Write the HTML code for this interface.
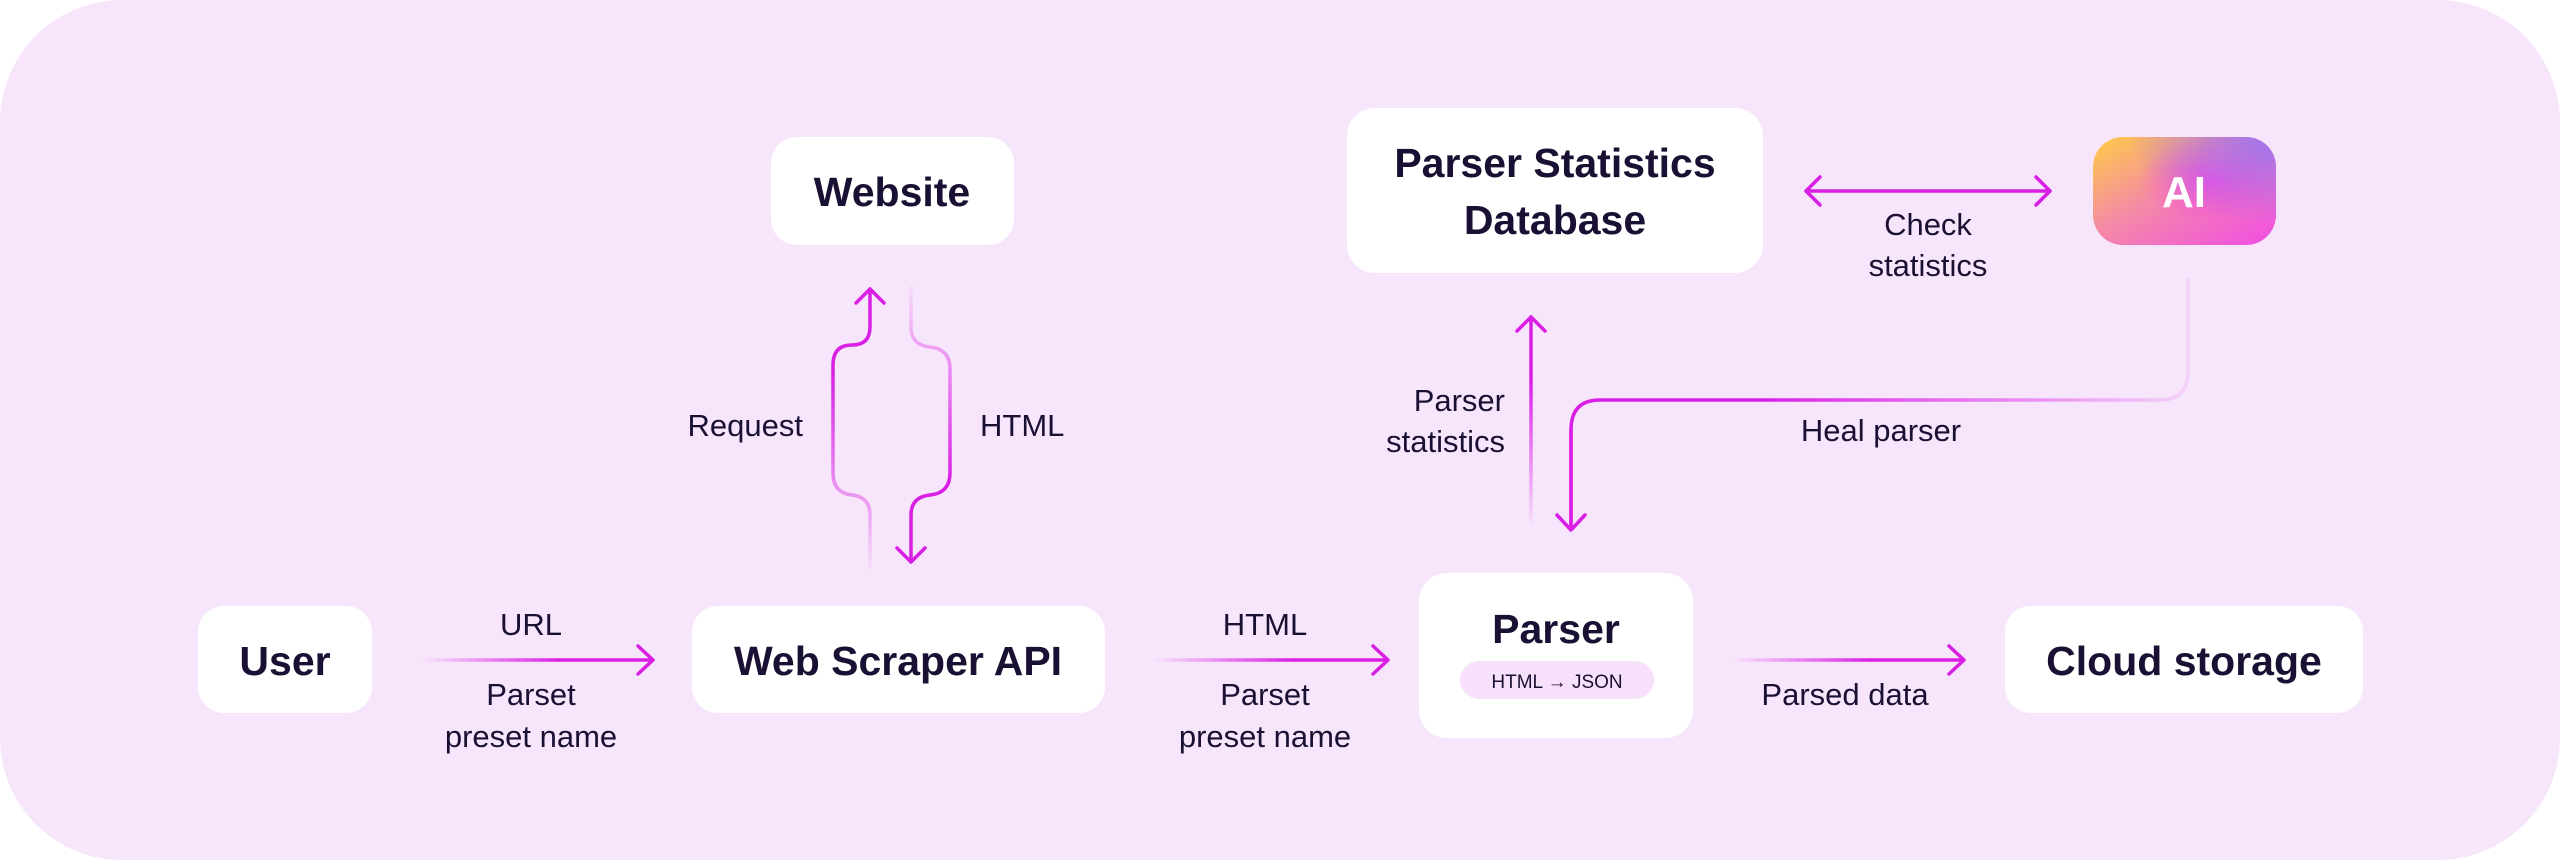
<!DOCTYPE html>
<html><head><meta charset="utf-8"><style>
html,body{margin:0;padding:0;background:#fff;}
svg{display:block;}
text{font-family:"Liberation Sans",sans-serif;fill:#1a1033;}
.t{font-size:41px;font-weight:bold;text-anchor:middle;}
.l{font-size:31px;text-anchor:middle;}
</style></head><body>
<svg width="2560" height="860" viewBox="0 0 2560 860" xmlns="http://www.w3.org/2000/svg">
<defs>
<linearGradient id="g1" gradientUnits="userSpaceOnUse" x1="421" y1="0" x2="653" y2="0"><stop offset="0" stop-color="#d91ee6" stop-opacity="0"/><stop offset="0.6" stop-color="#d91ee6"/></linearGradient>
<linearGradient id="g2" gradientUnits="userSpaceOnUse" x1="1153" y1="0" x2="1388" y2="0"><stop offset="0" stop-color="#d91ee6" stop-opacity="0"/><stop offset="0.6" stop-color="#d91ee6"/></linearGradient>
<linearGradient id="g3" gradientUnits="userSpaceOnUse" x1="1731" y1="0" x2="1964" y2="0"><stop offset="0" stop-color="#d91ee6" stop-opacity="0"/><stop offset="0.6" stop-color="#d91ee6"/></linearGradient>
<linearGradient id="greq" gradientUnits="userSpaceOnUse" x1="0" y1="289" x2="0" y2="568"><stop offset="0.3" stop-color="#d91ee6"/><stop offset="1" stop-color="#d91ee6" stop-opacity="0.05"/></linearGradient>
<linearGradient id="ghtml" gradientUnits="userSpaceOnUse" x1="0" y1="562" x2="0" y2="287"><stop offset="0.3" stop-color="#d91ee6"/><stop offset="1" stop-color="#d91ee6" stop-opacity="0.05"/></linearGradient>
<linearGradient id="gps" gradientUnits="userSpaceOnUse" x1="0" y1="317" x2="0" y2="522"><stop offset="0.3" stop-color="#d91ee6"/><stop offset="1" stop-color="#d91ee6" stop-opacity="0.05"/></linearGradient>
<linearGradient id="heal" gradientUnits="userSpaceOnUse" x1="1571" y1="0" x2="2190" y2="0"><stop offset="0.3" stop-color="#d91ee6"/><stop offset="1" stop-color="#d91ee6" stop-opacity="0.1"/></linearGradient>
<linearGradient id="ai1" x1="0" y1="0" x2="1" y2="1"><stop offset="0" stop-color="#ffcc44"/><stop offset="0.45" stop-color="#f48aa6"/><stop offset="1" stop-color="#f04ce6"/></linearGradient>
<radialGradient id="ai2" cx="1" cy="0" r="0.8"><stop offset="0" stop-color="#9a72f2"/><stop offset="1" stop-color="#9a72f2" stop-opacity="0"/></radialGradient>
<radialGradient id="ai3" cx="0.65" cy="0.4" r="0.4"><stop offset="0" stop-color="#f040e8" stop-opacity="0.8"/><stop offset="1" stop-color="#f040e8" stop-opacity="0"/></radialGradient>
</defs>
<rect x="0" y="0" width="2560" height="860" rx="122" fill="#f7e6fb"/>
<g fill="#fff">
<rect x="771" y="137" width="243" height="108" rx="26"/>
<rect x="198" y="606" width="174" height="107" rx="26"/>
<rect x="692" y="606" width="413" height="107" rx="26"/>
<rect x="1419" y="573" width="274" height="165" rx="28"/>
<rect x="2005" y="606" width="358" height="107" rx="26"/>
<rect x="1347" y="108" width="416" height="165" rx="28"/>
</g>
<rect x="2093" y="137" width="183" height="108" rx="30" fill="url(#ai1)"/>
<rect x="2093" y="137" width="183" height="108" rx="30" fill="url(#ai3)"/>
<rect x="2093" y="137" width="183" height="108" rx="30" fill="url(#ai2)"/>
<rect x="1460" y="661" width="194" height="38" rx="19" fill="#f7e0fa"/>

<text class="t" x="892" y="206">Website</text>
<text class="t" x="285" y="675">User</text>
<text class="t" x="898" y="675">Web Scraper API</text>
<text class="t" x="1556" y="643">Parser</text>
<text class="t" x="2184" y="675">Cloud storage</text>
<text class="t" x="1555" y="177">Parser Statistics</text>
<text class="t" x="1555" y="234">Database</text>
<text class="t" x="2184" y="207" style="fill:#fff;font-size:44px">AI</text>
<text x="1557" y="688" style="font-size:19px;text-anchor:middle">HTML → JSON</text>

<g fill="none" stroke-width="3.5" stroke-linecap="round" stroke-linejoin="round">
<line x1="421" y1="660" x2="651" y2="660" stroke="url(#g1)"/>
<polyline points="638,646 653,660 638,674" stroke="#d91ee6"/>
<line x1="1153" y1="660" x2="1386" y2="660" stroke="url(#g2)"/>
<polyline points="1373,646 1388,660 1373,674" stroke="#d91ee6"/>
<line x1="1731" y1="660" x2="1962" y2="660" stroke="url(#g3)"/>
<polyline points="1949,646 1964,660 1949,674" stroke="#d91ee6"/>
<path d="M870 289 V327 Q870 345 852 345 Q833 345 833 365 V473 Q833 493 852 495 Q870 497 870 515 V568" stroke="url(#greq)"/>
<polyline points="856,303 870,289 884,303" stroke="#d91ee6"/>
<path d="M911 287 V327 Q911 345 930 347 Q950 349 950 369 V473 Q950 493 930 495 Q911 497 911 515 V561" stroke="url(#ghtml)"/>
<polyline points="897,548 911,562 925,548" stroke="#d91ee6"/>
<line x1="1531" y1="317" x2="1531" y2="522" stroke="url(#gps)"/>
<polyline points="1517,331 1531,317 1545,331" stroke="#d91ee6"/>
<line x1="1806" y1="191" x2="2050" y2="191" stroke="#d91ee6"/>
<polyline points="1820,177 1806,191 1820,205" stroke="#d91ee6"/>
<polyline points="2036,177 2050,191 2036,205" stroke="#d91ee6"/>
<path d="M2188 280 V372 Q2188 400 2160 400 H1600 Q1571 400 1571 430 V529" stroke="url(#heal)"/>
<path d="M1571 430 V529" stroke="#d91ee6"/>
<polyline points="1557,515 1571,530 1585,515" stroke="#d91ee6"/>
</g>

<text class="l" x="531" y="635">URL</text>
<text class="l" x="531" y="705">Parset</text>
<text class="l" x="531" y="747">preset name</text>
<text class="l" x="1265" y="635">HTML</text>
<text class="l" x="1265" y="705">Parset</text>
<text class="l" x="1265" y="747">preset name</text>
<text class="l" x="1845" y="705">Parsed data</text>
<text class="l" x="803" y="436" style="text-anchor:end">Request</text>
<text class="l" x="980" y="436" style="text-anchor:start">HTML</text>
<text class="l" x="1505" y="411" style="text-anchor:end">Parser</text>
<text class="l" x="1505" y="452" style="text-anchor:end">statistics</text>
<text class="l" x="1881" y="441">Heal parser</text>
<text class="l" x="1928" y="235">Check</text>
<text class="l" x="1928" y="276">statistics</text>
</svg>
</body></html>
